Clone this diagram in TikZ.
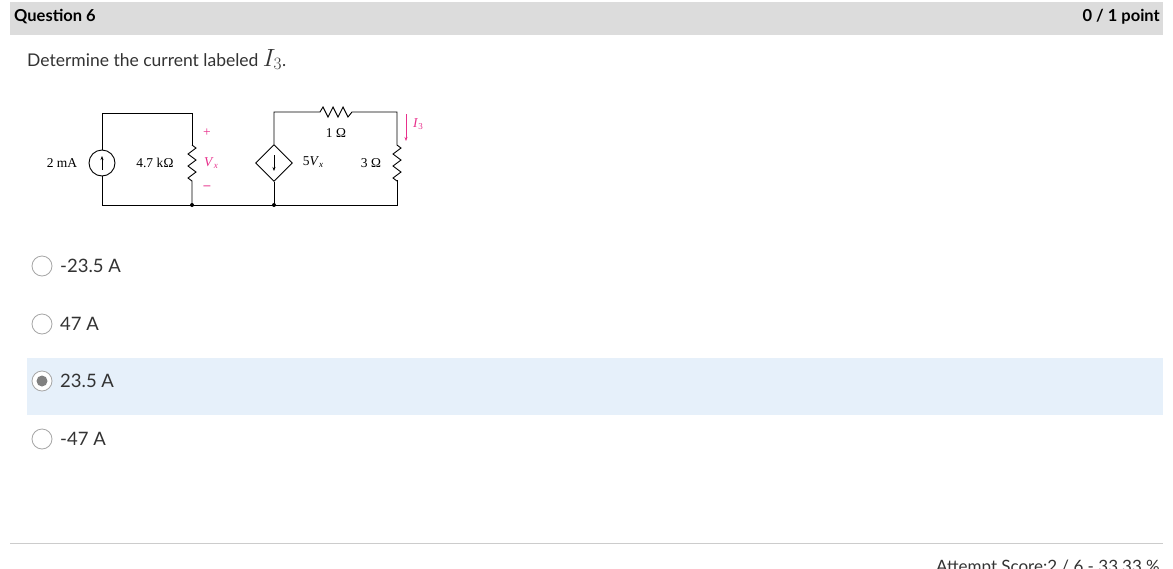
\documentclass[tikz,border=0pt]{standalone}
\usepackage{fontspec}
\setmainfont{Lato}
\newfontfamily\tms{Liberation Serif}
\usetikzlibrary{shapes.geometric,arrows.meta}
\definecolor{hdr}{HTML}{DCDCDC}
\definecolor{sel}{HTML}{E6F0FA}
\definecolor{mag}{HTML}{E8308C}
\definecolor{txt}{HTML}{333333}
\tikzset{
  wire/.style={line width=0.9pt},
  lbl/.style={font=\tms\fontsize{13.5}{15}\selectfont,inner sep=1pt},
  radio/.style={circle,draw=gray!70,line width=0.8pt,minimum size=20pt,inner sep=0},
  ans/.style={anchor=west,font=\fontsize{18.5}{22}\selectfont,text=txt,inner sep=0},
  dot/.style={circle,fill,inner sep=0,minimum size=4pt}
}
\begin{document}
\begin{tikzpicture}[x=1pt,y=-1pt]
\useasboundingbox (0,0) rectangle (1173,568);
\fill[white] (0,0) rectangle (1173,568);
\fill[hdr] (10,2) rectangle (1163,35);
\node[anchor=west,font=\bfseries\fontsize{16.5}{18}\selectfont,inner sep=0] (q) at (14,17) {Question 6};
\node[anchor=east,font=\bfseries\fontsize{16.5}{18}\selectfont,inner sep=0] (p) at (1160,17) {0 / 1 point};
\node[anchor=base west,font=\fontsize{17.5}{20}\selectfont,text=txt,inner sep=0] (d) at (27,66) {Determine the current labeled {\fontsize{24}{26}\selectfont$I_3$}.};
% circuit
\coordinate (tl) at (102,113); \coordinate (tm) at (192,113);
\coordinate (bl) at (102,205); \coordinate (bm) at (192,205);
\coordinate (bd) at (274,205); \coordinate (br) at (397,205);
\coordinate (td) at (274,112); \coordinate (tr) at (397,112);
\node[circle,draw,line width=0.9pt,minimum size=26pt,inner sep=0] (src) at (102,163) {};
\draw[-{Stealth[length=4pt]},line width=0.7pt] (102,170) -- (102,156);
\draw[wire] (src.north) -- (tl) -- (tm) -- (192,145);
\draw[wire] (src.south) -- (bl) -- (br) -- (397,180);
\draw[wire] (192,145) -- (196,148) -- (188,154) -- (196,160) -- (188,166) -- (196,172) -- (188,178) -- (192,181) -- (bm);
\node[diamond,draw,line width=0.9pt,minimum size=37pt,inner sep=0] (dia) at (274,163) {};
\draw[-{Stealth[length=4pt]},line width=0.7pt] (274,155) -- (274,171);
\draw[wire] (dia.north) -- (td) -- (320,112) -- (323,107) -- (328,117) -- (333,107) -- (338,117) -- (343,107) -- (348,117) -- (352,112) -- (tr) -- (397,145) -- (401,148) -- (393,154) -- (401,160) -- (393,166) -- (401,172) -- (393,178) -- (397,181);
\draw[wire] (dia.south) -- (bd);
\node[dot] (d1) at (bm) {}; \node[dot] (d2) at (bd) {};
\node[lbl] (l1) at (62,163) {2 mA};
\node[lbl] (l2) at (155,163) {4.7 k\symbol{"2126}};
\node[lbl,text=mag] (l3) at (207,133) {+};
\node[lbl,text=mag] (l4) at (211,163) {\textit{V}\raisebox{-2pt}{\fontsize{9}{10}\selectfont\textit{x}}};
\node[lbl,text=mag] (l5) at (207,188) {\textbf{–}};
\node[lbl] (l6) at (313,162) {5\textit{V}\raisebox{-2pt}{\fontsize{9}{10}\selectfont\textit{x}}};
\node[lbl] (l7) at (336,133) {1 \symbol{"2126}};
\node[lbl] (l8) at (371,163) {3 \symbol{"2126}};
\draw[mag,-{Stealth[length=4pt]},line width=0.8pt] (406,114) -- (406,141);
\node[lbl,text=mag] (l9) at (418,124) {\textit{I}\raisebox{-2pt}{\fontsize{9}{10}\selectfont 3}};
% answers
\fill[sel] (27,358) rectangle (1163,415);
\node[radio] (r1) at (42,266) {}; \node[ans] (a1) at (60,266) {-23.5 A};
\node[radio] (r2) at (42,324) {}; \node[ans] (a2) at (60,324) {47 A};
\node[radio,fill=white] (r3) at (42,381) {}; \fill[gray] (r3) circle (5.5pt); \node[ans] (a3) at (60,381) {23.5 A};
\node[radio] (r4) at (42,439) {}; \node[ans] (a4) at (60,439) {-47 A};
\draw[gray!40] (10,543) -- (1163,543);
\node[anchor=base east,font=\fontsize{17}{18}\selectfont,text=txt,inner sep=0] (as) at (1160,572) {Attempt Score:2 / 6 - 33.33 \%};
\end{tikzpicture}
\end{document}
